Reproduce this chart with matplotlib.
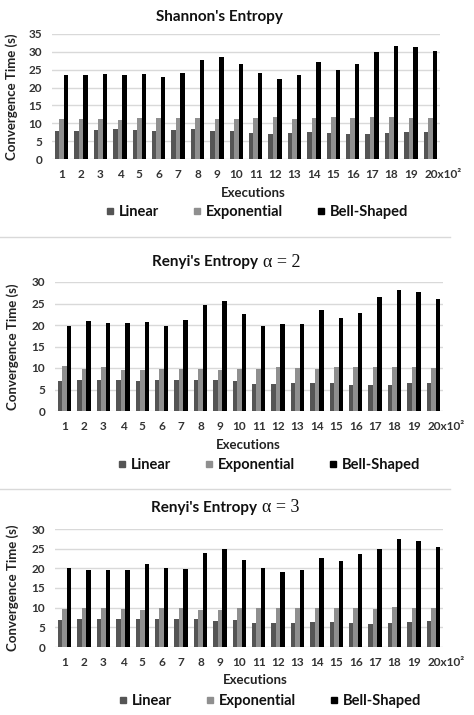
import matplotlib
matplotlib.use("Agg")
import matplotlib.pyplot as plt
import matplotlib.transforms as mtransforms
import numpy as np
from matplotlib.lines import Line2D

plt.rcParams['font.family'] = ['Lato', 'DejaVu Sans']

executions = ["1", "2", "3", "4", "5", "6", "7", "8", "9", "10",
              "11", "12", "13", "14", "15", "16", "17", "18", "19", "20x10²"]
series_names = ["Linear", "Exponential", "Bell-Shaped"]

shannon_linear = [7.9, 7.9, 8.1, 8.3, 8.0, 7.9, 8.0, 8.4, 7.9, 7.8,
                  7.2, 7.0, 7.3, 7.6, 7.4, 6.9, 6.9, 7.4, 7.5, 7.6]
shannon_exponential = [11.3, 11.3, 11.3, 10.9, 11.4, 11.4, 11.6, 11.4, 11.1, 11.2,
                       11.6, 11.9, 11.1, 11.4, 11.7, 11.4, 11.9, 11.9, 11.4, 11.4]
shannon_bell = [23.4, 23.4, 23.8, 23.4, 23.7, 22.9, 24.0, 27.7, 28.7, 26.5,
                24.0, 22.3, 23.4, 27.2, 25.0, 26.6, 29.9, 31.7, 31.3, 30.3]

renyi2_linear = [6.9, 7.1, 7.2, 7.2, 7.0, 7.1, 7.2, 7.1, 7.1, 6.9,
                 6.2, 6.2, 6.4, 6.5, 6.4, 6.1, 6.1, 6.1, 6.6, 6.6]
renyi2_exponential = [10.4, 9.7, 10.2, 9.5, 9.6, 9.8, 9.7, 9.7, 9.6, 9.8,
                      9.8, 10.3, 10.0, 9.8, 10.3, 10.2, 10.3, 10.2, 10.2, 10.0]
renyi2_bell = [19.7, 20.9, 20.5, 20.5, 20.8, 19.7, 21.1, 24.6, 25.6, 22.6,
               19.7, 20.3, 20.3, 23.6, 21.6, 22.8, 26.5, 28.1, 27.7, 26.0]

renyi3_linear = [6.8, 7.0, 7.0, 7.1, 7.0, 7.1, 7.1, 7.0, 6.6, 6.8,
                 6.1, 6.1, 6.1, 6.4, 6.4, 6.1, 5.9, 6.1, 6.4, 6.6]
renyi3_exponential = [9.6, 9.8, 9.8, 9.6, 9.4, 9.8, 9.8, 9.4, 9.4, 9.8,
                      9.9, 9.9, 9.9, 9.9, 9.9, 10.0, 9.6, 10.2, 9.9, 9.9]
renyi3_bell = [20.0, 19.7, 19.5, 19.7, 21.2, 20.2, 19.8, 23.8, 24.9, 22.0,
               20.2, 19.1, 19.5, 22.6, 21.9, 23.6, 25.0, 27.4, 27.0, 25.4]

colors = ["#555555", "#8f8f8f", "#000000"]

W, H = 474, 715
fig = plt.figure(figsize=(W / 100, H / 100), dpi=100)


def fx(px):
    return px / W


def fy(py):
    return 1 - py / H


panels = [
    dict(title=("Shannon's Entropy", ""), title_xy=(283, 17),
         data=(shannon_linear, shannon_exponential, shannon_bell),
         box=(52, 34, 440, 159), ymax=35,
         xlabel_xy=(253, 193), legend_xy=(257, 212), ylabel_x=12),
    dict(title=("Renyi's Entropy", "α = 2"), title_xy=(258, 262),
         data=(renyi2_linear, renyi2_exponential, renyi2_bell),
         box=(55, 282, 443, 411), ymax=30,
         xlabel_xy=(248, 445), legend_xy=(269, 465), ylabel_x=13),
    dict(title=("Renyi's Entropy", "α = 3"), title_xy=(257, 508),
         data=(renyi3_linear, renyi3_exponential, renyi3_bell),
         box=(55, 529, 443, 647), ymax=30,
         xlabel_xy=(255, 680), legend_xy=(270, 701), ylabel_x=13),
]

x = np.arange(len(executions))
bw = 0.23
for p in panels:
    l, t, r, b = p["box"]
    ax = fig.add_axes([fx(l), fy(b), fx(r - l), (b - t) / H])
    for i, (vals, c) in enumerate(zip(p["data"], colors)):
        ax.bar(x + (i - 1) * bw, vals, width=bw, color=c, label=series_names[i], zorder=3)
    ax.set_xlim(-0.5, len(executions) - 0.5)
    ax.set_ylim(0, p["ymax"])
    ax.set_yticks(np.arange(0, p["ymax"] + 1, 5))
    ax.set_xticks(x)
    ax.set_xticklabels(executions)
    ax.grid(axis="y", color="#d9d9d9", linewidth=1, zorder=0)
    ax.set_axisbelow(True)
    for s in ax.spines.values():
        s.set_visible(False)
    ax.tick_params(length=0, labelsize=8.5, colors="#333333", pad=7)
    for lab in ax.get_xticklabels() + ax.get_yticklabels():
        lab.set_fontweight("bold")
    last = ax.get_xticklabels()[-1]
    last.set_ha("left")
    last.set_transform(last.get_transform() +
                       mtransforms.ScaledTranslation(-6 / 100, 0, fig.dpi_scale_trans))
    cy = (t + b) / 2
    fig.text(fx(p["ylabel_x"]), fy(cy), "Convergence Time (s)", rotation=90,
             ha="center", va="center", fontsize=9.5, fontweight="bold", color="#222222")
    main, extra = p["title"]
    fig.text(fx(p["title_xy"][0]), fy(p["title_xy"][1]), main, ha="right",
             va="center", fontsize=11, fontweight="bold", color="#111111")
    if extra:
        fig.text(fx(p["title_xy"][0] + 5), fy(p["title_xy"][1]), extra, ha="left",
                 va="center", fontsize=13, family="Liberation Serif", color="#111111")
    fig.text(fx(p["xlabel_xy"][0]), fy(p["xlabel_xy"][1]), "Executions", ha="center",
             va="center", fontsize=9.5, fontweight="bold", color="#222222")
    handles = [Line2D([], [], marker="s", linestyle="none", markersize=4.5,
                      color=c) for c in colors]
    fig.legend(handles, series_names, loc="center",
               bbox_to_anchor=(fx(p["legend_xy"][0]), fy(p["legend_xy"][1])),
               ncol=3, frameon=False, handlelength=0.6, handletextpad=0.3,
               columnspacing=2.3, prop=dict(family="Lato", weight="bold", size=10.5),
               labelcolor="#111111")

for yy in (237, 489):
    fig.add_artist(Line2D([0, fx(450)], [fy(yy), fy(yy)], color="#d9d9d9",
                          linewidth=1, transform=fig.transFigure))

fig.savefig("out.png", dpi=100, facecolor="white")
